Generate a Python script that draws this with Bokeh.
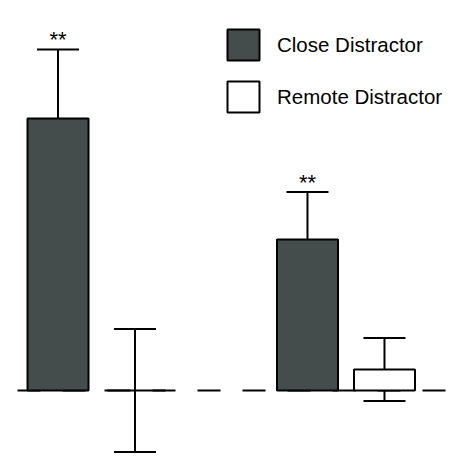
from bokeh.plotting import figure
from bokeh.models import ColumnDataSource, Whisker, TeeHead, Span, Legend, LegendItem
from bokeh.embed import file_html
from bokeh.resources import INLINE

groups = [0, 1]
close_vals = [27.2, 15.1]
remote_vals = [0.0, 2.1]
close_err = [6.9, 4.75]
remote_err = [6.15, 3.15]
sig_labels = ["**", "**"]
legend_labels = ["Close Distractor", "Remote Distractor"]

DARK = "#444c4c"
offset = 0.1543
bw = 0.2445

p = figure(width=458, height=458, output_backend="svg", toolbar_location=None,
           x_range=(-0.3848, 1.451), y_range=(-6.8, 39.0),
           x_axis_location=None, y_axis_location=None, min_border=0)
p.xgrid.visible = False
p.ygrid.visible = False
p.outline_line_color = None

base = Span(location=0, dimension="width", line_color="black", line_width=2,
            line_dash="23 22", line_dash_offset=28, level="underlay")
p.add_layout(base)

cx = [g - offset for g in groups]
rx = [g + offset for g in groups]
close_src = ColumnDataSource(dict(x=cx, top=close_vals,
                                  lo=[v - e for v, e in zip(close_vals, close_err)],
                                  hi=[v + e for v, e in zip(close_vals, close_err)],
                                  lab=sig_labels))
remote_src = ColumnDataSource(dict(x=rx, top=remote_vals,
                                   lo=[v - e for v, e in zip(remote_vals, remote_err)],
                                   hi=[v + e for v, e in zip(remote_vals, remote_err)]))

r1 = p.vbar(x="x", top="top", bottom=0, width=bw, source=close_src,
            fill_color=DARK, line_color="black", line_width=2)
r2 = p.vbar(x="x", top="top", bottom=0, width=bw, source=remote_src,
            fill_color="white", line_color="black", line_width=2)

for src in (close_src, remote_src):
    w = Whisker(base="x", lower="lo", upper="hi", source=src, line_width=2, line_color="black",
                upper_head=TeeHead(size=42, line_width=2, line_color="black"),
                lower_head=TeeHead(size=42, line_width=2, line_color="black"))
    p.add_layout(w)

p.text(x="x", y="hi", text="lab", source=close_src, text_align="center",
       text_baseline="alphabetic", text_font_size="22px", text_color="black",
       text_font={"value": "Liberation Sans"}, y_offset=-10)

legend = Legend(items=[LegendItem(label=legend_labels[0], renderers=[r1]),
                       LegendItem(label=legend_labels[1], renderers=[r2])],
                location=(223, 342), padding=0, margin=0, spacing=13,
                glyph_width=40, glyph_height=39, label_standoff=14,
                label_text_font_size="20.5px", label_text_font="Liberation Sans",
                label_text_color="black", border_line_alpha=0, background_fill_alpha=0)
p.add_layout(legend)

open("out.html", "w").write(file_html(p, INLINE))
